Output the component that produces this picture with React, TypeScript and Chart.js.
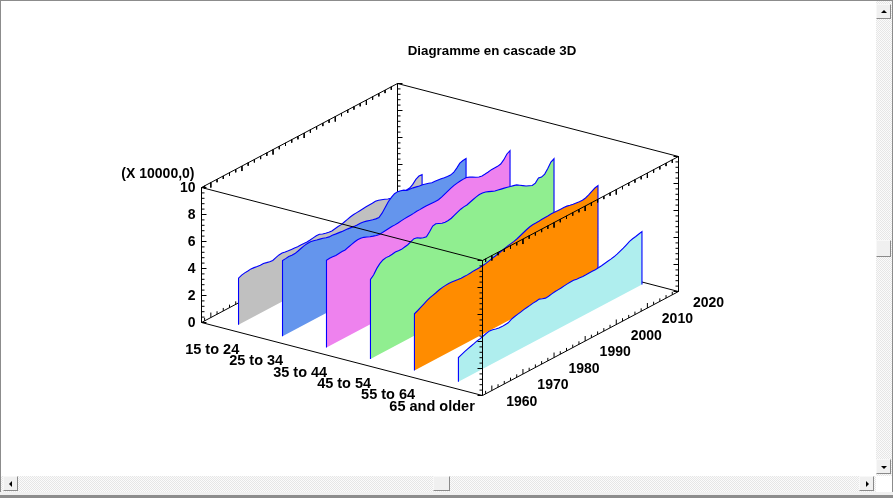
import React, { useEffect, useRef } from "react";
import { Chart, registerables } from "chart.js";

Chart.register(...registerables);

const W = 893;
const H = 498;

// ---------- data ----------
const TITLE = "Diagramme en cascade 3D";
const Z_UNIT_LABEL = "(X 10000,0)";
const CATEGORIES = ["15 to 24", "25 to 34", "35 to 44", "45 to 54", "55 to 64", "65 and older"];
const YEAR_TICKS = [1960, 1970, 1980, 1990, 2000, 2010, 2020];
const Z_TICKS = [0, 2, 4, 6, 8, 10];
const YEARS = [
  1960, 1961, 1962, 1963, 1964, 1965, 1966, 1967, 1968, 1969,
  1970, 1971, 1972, 1973, 1974, 1975, 1976, 1977, 1978, 1979,
  1980, 1981, 1982, 1983, 1984, 1985, 1986, 1987, 1988, 1989,
  1990, 1991, 1992, 1993, 1994, 1995, 1996, 1997, 1998, 1999,
  2000, 2001, 2002, 2003, 2004, 2005, 2006, 2007, 2008, 2009,
  2010, 2011, 2012, 2013, 2014, 2015, 2016, 2017, 2018, 2019,
];
const S_15_24 = [
  3.45, 3.55, 3.6, 3.62, 3.65, 3.62, 3.58, 3.55, 3.56, 3.5,
  3.45, 3.42, 3.5, 3.58, 3.6, 3.55, 3.52, 3.5, 3.48, 3.45,
  3.46, 3.45, 3.44, 3.46, 3.5, 3.54, 3.52, 3.42, 3.35, 3.3,
  3.28, 3.32, 3.36, 3.38, 3.45, 3.52, 3.6, 3.64, 3.66, 3.68,
  3.7, 3.72, 3.74, 3.74, 3.76, 3.72, 3.64, 3.55, 3.45, 3.38,
  3.32, 3.3, 3.32, 3.35, 3.38, 3.4, 3.55, 3.8, 3.92, 3.9,
];
const S_25_34 = [
  5.6, 5.62, 5.65, 5.62, 5.63, 5.7, 5.78, 5.85, 5.88, 5.9,
  5.85, 5.78, 5.72, 5.66, 5.58, 5.52, 5.52, 5.48, 5.45, 5.42,
  5.4, 5.38, 5.35, 5.32, 5.3, 5.3, 5.28, 5.22, 5.15, 5.08,
  5.02, 5.0, 5.2, 5.5, 5.8, 6.0, 6.15, 6.18, 6.12, 6.05,
  5.9, 5.88, 5.85, 5.8, 5.75, 5.72, 5.65, 5.58, 5.5, 5.48,
  5.45, 5.42, 5.38, 5.35, 5.33, 5.4, 5.6, 5.85, 5.92, 5.95,
];
const S_35_44 = [
  6.47, 6.5, 6.48, 6.45, 6.48, 6.5, 6.5, 6.58, 6.65, 6.72,
  6.76, 6.76, 6.7, 6.6, 6.5, 6.42, 6.35, 6.3, 6.32, 6.35,
  6.38, 6.4, 6.4, 6.42, 6.45, 6.48, 6.5, 6.5, 6.52, 6.55,
  6.55, 6.57, 6.57, 6.57, 6.56, 6.55, 6.55, 6.62, 6.72, 6.82,
  6.92, 7.0, 7.05, 7.08, 7.1, 7.1, 7.0, 6.88, 6.75, 6.65,
  6.6, 6.62, 6.65, 6.7, 6.7, 6.7, 6.75, 6.95, 7.25, 7.38,
];
const S_45_54 = [
  5.9, 6.1, 6.45, 6.7, 6.85, 6.9, 6.88, 6.9, 6.95, 6.92,
  6.9, 6.95, 7.0, 7.1, 7.2, 7.15, 7.0, 6.9, 6.85, 7.1,
  7.4, 7.45, 7.35, 7.25, 7.2, 7.2, 7.25, 7.35, 7.45, 7.55,
  7.6, 7.62, 7.7, 7.78, 7.85, 7.9, 7.9, 7.85, 7.75, 7.65,
  7.55, 7.5, 7.45, 7.4, 7.35, 7.28, 7.22, 7.15, 7.0, 6.85,
  6.7, 6.6, 6.5, 6.55, 6.8, 6.75, 6.85, 7.15, 7.5, 7.62,
];
const S_55_64 = [
  4.2, 4.3, 4.42, 4.55, 4.68, 4.78, 4.85, 4.92, 5.0, 5.05,
  5.08, 5.1, 5.08, 5.05, 5.02, 5.0, 5.0, 5.0, 5.02, 5.05,
  5.05, 5.06, 5.08, 5.12, 5.18, 5.25, 5.3, 5.36, 5.42, 5.5,
  5.56, 5.6, 5.65, 5.72, 5.82, 5.92, 6.02, 6.1, 6.15, 6.15,
  6.16, 6.18, 6.2, 6.2, 6.22, 6.22, 6.2, 6.2, 6.2, 6.18,
  6.12, 6.08, 6.05, 6.02, 6.0, 6.05, 6.15, 6.3, 6.42, 6.48,
];
const S_65_PLUS = [
  1.8, 1.9, 2.0, 2.08, 2.15, 2.22, 2.3, 2.35, 2.42, 2.5,
  2.55, 2.52, 2.45, 2.4, 2.38, 2.4, 2.42, 2.55, 2.62, 2.68,
  2.72, 2.78, 2.82, 2.85, 2.9, 2.92, 2.95, 2.85, 2.78, 2.8,
  2.85, 2.88, 2.9, 2.92, 2.95, 2.98, 3.0, 3.0, 2.96, 2.94,
  2.92, 2.92, 2.93, 2.93, 2.93, 2.95, 2.98, 3.02, 3.06, 3.1,
  3.15, 3.22, 3.32, 3.42, 3.55, 3.68, 3.75, 3.8, 3.86, 3.92,
];
const SERIES = [S_15_24, S_25_34, S_35_44, S_45_54, S_55_64, S_65_PLUS];
const WALL_COLORS = ["#c0c0c0", "#6495ed", "#ee82ee", "#90ee90", "#ff8c00", "#afeeee"];

// ---------- 3D box axis ranges ----------
const CAT_MIN = -0.63;
const CAT_MAX = 5.76;
const YEAR_MIN = 1957;
const YEAR_MAX = 2020;
const Z_MIN = 0;
const Z_MAX = 10;
const Z_MINOR = 0.4;
const YEAR_MINOR = 2;

// ---------- view (oblique projection, screen px) ----------
const O = { x: 201.5, y: 322.5 };
const VX = { x: 281, y: 73 };
const VY = { x: 196, y: -104 };
const VZ = { x: 0, y: -135 };

type P = { x: number; y: number };
const GAP: P = { x: NaN, y: NaN };

function proj(c: number, yr: number, z: number): P {
  const u = (c - CAT_MIN) / (CAT_MAX - CAT_MIN);
  const t = (yr - YEAR_MIN) / (YEAR_MAX - YEAR_MIN);
  const w = (z - Z_MIN) / (Z_MAX - Z_MIN);
  return {
    x: O.x + u * VX.x + t * VY.x + w * VZ.x,
    y: O.y + u * VX.y + t * VY.y + w * VZ.y,
  };
}
const corner = (cu: number, ty: number, zz: number) =>
  proj(cu ? CAT_MAX : CAT_MIN, ty ? YEAR_MAX : YEAR_MIN, zz ? Z_MAX : Z_MIN);

function steps(a: number, b: number, s: number): number[] {
  const out: number[] = [];
  const n = Math.round((b - a) / s);
  for (let i = 0; i <= n; i++) out.push(+(a + i * s).toFixed(4));
  return out;
}

function segs(list: P[][]): P[] {
  const out: P[] = [];
  list.forEach((s) => {
    out.push(...s, GAP);
  });
  return out;
}

function zTicks(cu: number, ty: number, dir: number): P[][] {
  return steps(Z_MIN, Z_MAX, Z_MINOR).map((z) => {
    const p = proj(cu ? CAT_MAX : CAT_MIN, ty ? YEAR_MAX : YEAR_MIN, z);
    const major = Math.abs(z / 2 - Math.round(z / 2)) < 1e-6;
    const len = major ? 5 : 3;
    return [p, { x: p.x + dir * len, y: p.y }];
  });
}

function yearTicks(cu: number, zz: number, dir: number): P[][] {
  const first = Math.ceil(YEAR_MIN / YEAR_MINOR) * YEAR_MINOR;
  return steps(first, YEAR_MAX, YEAR_MINOR).map((yr) => {
    const p = proj(cu ? CAT_MAX : CAT_MIN, yr, zz ? Z_MAX : Z_MIN);
    const len = yr % 10 === 0 ? 5 : 3;
    return [p, { x: p.x, y: p.y + dir * len }];
  });
}

function buildDatasets() {
  const lineBase = {
    pointRadius: 0,
    pointHoverRadius: 0,
    tension: 0,
    spanGaps: false,
    fill: false,
    borderColor: "#000",
    borderWidth: 1,
  };
  const back = segs([
    [corner(0, 1, 0), corner(0, 1, 1)],
    [corner(0, 0, 0), corner(0, 1, 0)],
    [corner(0, 1, 0), corner(1, 1, 0)],
    [corner(0, 1, 1), corner(1, 1, 1)],
    [corner(0, 0, 1), corner(0, 1, 1)],
    [corner(1, 1, 0), corner(1, 1, 1)],
    ...zTicks(0, 1, 1),
    ...zTicks(1, 1, -1),
    ...yearTicks(0, 1, 1),
    ...yearTicks(0, 0, -1),
  ]);
  const front = segs([
    [corner(0, 0, 1), corner(1, 0, 1)],
    [corner(1, 0, 0), corner(1, 0, 1)],
    [corner(1, 0, 1), corner(1, 1, 1)],
    [corner(0, 0, 0), corner(1, 0, 0)],
    [corner(1, 0, 0), corner(1, 1, 0)],
    [corner(0, 0, 0), corner(0, 0, 1)],
    ...zTicks(0, 0, 1),
    ...zTicks(1, 0, -1),
    ...yearTicks(1, 1, 1),
    ...yearTicks(1, 0, -1),
  ]);

  const walls = SERIES.map((vals, i) => {
    const pts: P[] = [proj(i, YEARS[0], 0)];
    vals.forEach((v, k) => pts.push(proj(i, YEARS[k], v)));
    pts.push(proj(i, YEARS[YEARS.length - 1], 0));
    return {
      ...lineBase,
      label: CATEGORIES[i],
      data: pts,
      fill: "shape",
      backgroundColor: WALL_COLORS[i],
      borderColor: "#0000ff",
      borderWidth: 1.1,
    };
  });

  const ordered = [
    { ...lineBase, label: "back", data: back },
    ...walls,
    { ...lineBase, label: "front", data: front },
  ];
  const n = ordered.length;
  return ordered.map((d, i) => ({ ...d, order: n - i }));
}

const textPlugin = {
  id: "cascadeText",
  afterDatasetsDraw(chart: any) {
    const ctx = chart.ctx as CanvasRenderingContext2D;
    const sx = chart.scales.x;
    const sy = chart.scales.y;
    const X = (v: number) => sx.getPixelForValue(v);
    const Y = (v: number) => sy.getPixelForValue(v);
    const FONT = '"Liberation Sans", Arial, Helvetica, sans-serif';
    ctx.save();
    ctx.fillStyle = "#000";

    ctx.font = `bold 13.3px ${FONT}`;
    ctx.textAlign = "center";
    ctx.textBaseline = "middle";
    ctx.fillText(TITLE, X(492), Y(51));

    ctx.font = `bold 14px ${FONT}`;
    ctx.textAlign = "right";
    Z_TICKS.forEach((z) => {
      const p = proj(CAT_MIN, YEAR_MIN, z);
      ctx.fillText(String(z), X(p.x - 6), Y(p.y + 1));
    });
    const top = proj(CAT_MIN, YEAR_MIN, Z_MAX);
    ctx.fillText(Z_UNIT_LABEL, X(top.x - 7), Y(top.y - 13.5));

    ctx.textAlign = "center";
    ctx.font = `bold 14.5px ${FONT}`;
    CATEGORIES.forEach((c, i) => {
      const p = proj(i, YEAR_MIN, Z_MIN);
      ctx.fillText(c, X(p.x - 17), Y(p.y + 20));
    });

    ctx.font = `bold 14px ${FONT}`;
    YEAR_TICKS.forEach((yr) => {
      const p = proj(CAT_MAX, yr, Z_MIN);
      ctx.fillText(String(yr), X(p.x + 30), Y(p.y + 11.5));
    });
    ctx.restore();
  },
};

function Btn({ left, top, dir }: { left: number; top: number; dir: "up" | "down" | "left" | "right" }) {
  const tri: React.CSSProperties = { position: "absolute", width: 0, height: 0 };
  if (dir === "up") Object.assign(tri, { left: 4, top: 5, borderLeft: "3px solid transparent", borderRight: "3px solid transparent", borderBottom: "3px solid #000" });
  if (dir === "down") Object.assign(tri, { left: 4, top: 6, borderLeft: "3px solid transparent", borderRight: "3px solid transparent", borderTop: "3px solid #000" });
  if (dir === "left") Object.assign(tri, { left: 5, top: 4, borderTop: "3px solid transparent", borderBottom: "3px solid transparent", borderRight: "3px solid #000" });
  if (dir === "right") Object.assign(tri, { left: 6, top: 4, borderTop: "3px solid transparent", borderBottom: "3px solid transparent", borderLeft: "3px solid #000" });
  return (
    <div
      style={{
        position: "absolute",
        left,
        top,
        width: 15,
        height: 15,
        boxSizing: "border-box",
        background: "#f0f0f0",
        borderTop: "1px solid #f8f8f8",
        borderLeft: "1px solid #f8f8f8",
        borderRight: "1px solid #8a8a8a",
        borderBottom: "1px solid #8a8a8a",
      }}
    >
      <div style={tri} />
    </div>
  );
}

function Thumb({ left, top, w, h }: { left: number; top: number; w: number; h: number }) {
  return (
    <div
      style={{
        position: "absolute",
        left,
        top,
        width: w,
        height: h,
        boxSizing: "border-box",
        background: "#f0f0f0",
        borderTop: "1px solid #f8f8f8",
        borderLeft: "1px solid #f8f8f8",
        borderRight: "1px solid #8a8a8a",
        borderBottom: "1px solid #8a8a8a",
      }}
    />
  );
}

const track: React.CSSProperties = {
  position: "absolute",
  backgroundImage: "repeating-conic-gradient(#e6e6e6 0 25%, #fbfbfb 0 50%)",
  backgroundSize: "2px 2px",
};

export default function App() {
  const ref = useRef<HTMLCanvasElement>(null);

  useEffect(() => {
    const canvas = ref.current;
    if (!canvas) return;
    const chart = new Chart(canvas, {
      type: "line",
      data: { datasets: buildDatasets() as any },
      options: {
        animation: false,
        responsive: false,
        events: [],
        layout: { padding: 0 },
        plugins: {
          legend: { display: false },
          tooltip: { enabled: false },
          title: { display: false },
        },
        scales: {
          x: { type: "linear", min: 0, max: W, display: false },
          y: { type: "linear", min: 0, max: H, reverse: true, display: false },
        },
      },
      plugins: [textPlugin],
    });
    return () => chart.destroy();
  }, []);

  return (
    <div
      style={{
        position: "fixed",
        left: 0,
        top: 0,
        width: W,
        height: H,
        background: "#fff",
        overflow: "hidden",
      }}
    >
      <canvas ref={ref} width={W} height={H} style={{ position: "absolute", left: 0, top: 0, width: W, height: H }} />
      {/* window frame */}
      <div style={{ position: "absolute", left: 0, top: 0, width: W, height: 1, background: "#8c8c8c" }} />
      <div style={{ position: "absolute", left: 0, top: 0, width: 1, height: H, background: "#8c8c8c" }} />
      <div style={{ position: "absolute", left: W - 1, top: 0, width: 1, height: H, background: "#8c8c8c" }} />
      {/* vertical scrollbar */}
      <div style={{ ...track, left: 876, top: 1, width: 16, height: 475 }} />
      <Btn left={876} top={4} dir="up" />
      <Thumb left={876} top={240} w={15} h={17} />
      <Btn left={876} top={459} dir="down" />
      {/* horizontal scrollbar */}
      <div style={{ ...track, left: 1, top: 476, width: 875, height: 16 }} />
      <Btn left={3} top={476} dir="left" />
      <Thumb left={433} top={476} w={17} h={15} />
      <Btn left={859} top={476} dir="right" />
      <div style={{ position: "absolute", left: 876, top: 476, width: 16, height: 16, background: "#fff" }} />
      {/* bottom frame */}
      <div style={{ position: "absolute", left: 0, top: 492, width: W, height: 4, background: "#f0f0f0" }} />
      <div style={{ position: "absolute", left: 0, top: 495, width: W, height: 3, background: "#8c8c8c" }} />
    </div>
  );
}
